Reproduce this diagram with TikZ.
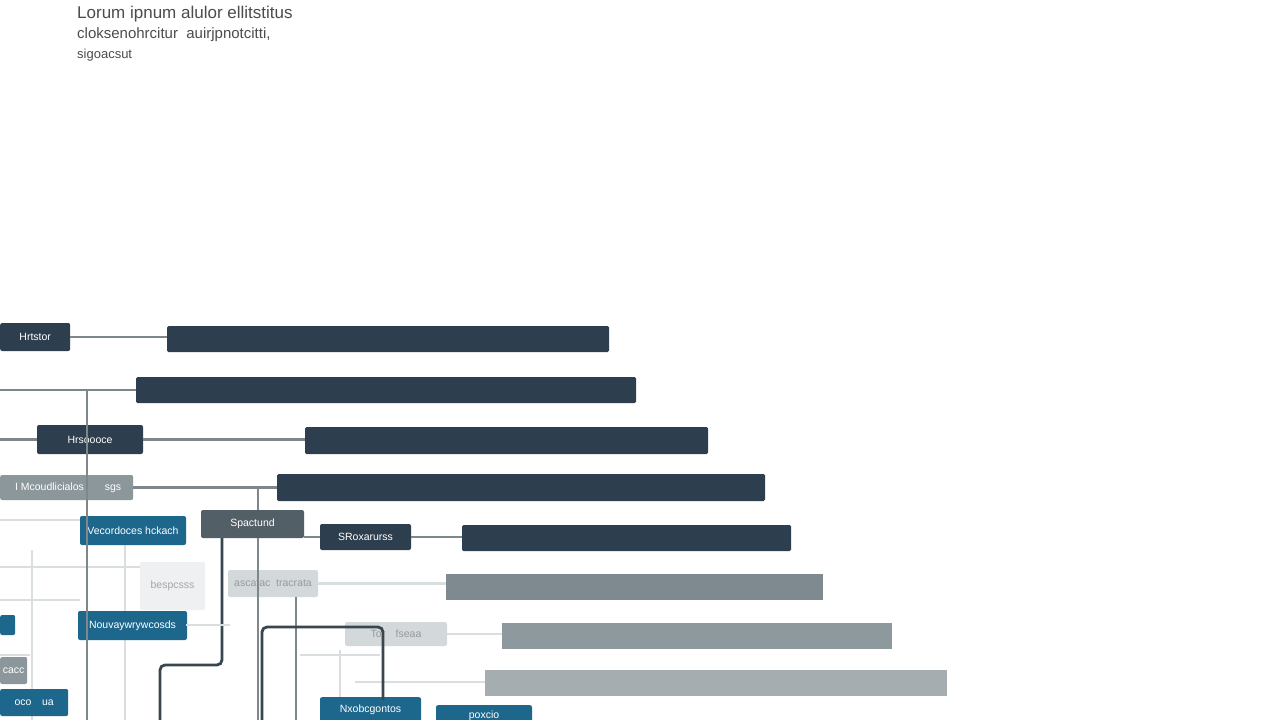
\documentclass[tikz,border=0pt]{standalone}
\usepackage{fontspec}
\setmainfont{Liberation Sans}
\begin{document}
\begin{tikzpicture}[x=1pt,y=-1pt,
  dark/.style={fill=bardark,draw=none,rounded corners=1.5pt},
  lbl/.style={rounded corners=2pt,draw=none,text=white,font=\fontsize{10.5}{11}\selectfont,inner sep=0pt},
  lbldark/.style={lbl,fill=bardark},
  lblblue/.style={lbl,fill=lblue},
  lblgray/.style={lbl,fill=lgray},
  lbllight/.style={lbl,fill=llight,text=gray!80},
  lblpale/.style={lbl,fill=lpale,text=gray!70},
  conn/.style={draw=linegray,line width=2.6pt},
  connlight/.style={draw=linelight,line width=2.4pt},
  conndark/.style={draw=linedark,line width=2.8pt,rounded corners=5pt}]
\definecolor{bardark}{HTML}{2D3F4E}
\definecolor{gray1}{HTML}{7F8A90}
\definecolor{gray2}{HTML}{8E999D}
\definecolor{gray3}{HTML}{A5ADB0}
\definecolor{lblue}{HTML}{1E678C}
\definecolor{lgray}{HTML}{8C979C}
\definecolor{llight}{HTML}{D3D9DB}
\definecolor{lpale}{HTML}{EEF0F1}
\definecolor{lspact}{HTML}{535F67}
\definecolor{linegray}{HTML}{7E878C}
\definecolor{linelight}{HTML}{D9DEE0}
\definecolor{linedark}{HTML}{37464F}
\useasboundingbox (0,0) rectangle (1280,720);
\fill[white] (0,0) rectangle (1280,720);

% title
\node[anchor=base west,inner sep=0pt,text=black!70,font=\fontsize{17}{20}\selectfont] (t1) at (77,19) {Lorum ipnum alulor ellitstitus};
\node[anchor=base west,inner sep=0pt,text=black!70,font=\fontsize{15}{18}\selectfont] (t2) at (77,38) {cloksenohrcitur\ \ auirjpnotcitti,};
\node[anchor=base west,inner sep=0pt,text=black!70,font=\fontsize{13}{16}\selectfont] (t3) at (77,58) {sigoacsut};

% light background lines
\draw[connlight] (0,520) -- (80,520);
\draw[connlight] (0,567) -- (140,567);
\draw[connlight] (32,550) -- (32,720);
\draw[connlight] (125,545) -- (125,720);
\draw[connlight] (0,600) -- (80,600);
\draw[connlight] (0,655) -- (30,655);
\draw[connlight] (340,650) -- (340,720);
\draw[connlight] (300,655) -- (380,655);
\draw[connlight] (355,682) -- (485,682);

% bars
\node[dark,minimum width=442pt,minimum height=26pt,inner sep=0pt] (b1) at (388,339) {};
\node[dark,minimum width=500pt,minimum height=26pt,inner sep=0pt] (b2) at (386,390) {};
\node[dark,minimum width=403pt,minimum height=27pt,inner sep=0pt] (b3) at (506.5,440.5) {};
\node[dark,minimum width=488pt,minimum height=27pt,inner sep=0pt] (b4) at (521,487.5) {};
\node[dark,minimum width=329pt,minimum height=26pt,inner sep=0pt] (b5) at (626.5,538) {};
\node[fill=gray1,minimum width=377pt,minimum height=26pt,inner sep=0pt] (b6) at (634.5,587) {};
\node[fill=gray2,minimum width=390pt,minimum height=26pt,inner sep=0pt] (b7) at (697,636) {};
\node[fill=gray3,minimum width=462pt,minimum height=26pt,inner sep=0pt] (b8) at (716,683) {};

% label boxes
\node[lbldark,minimum width=70pt,minimum height=28pt,anchor=west] (hrt) at (0,337) {Hrtstor};
\node[lbldark,minimum width=106pt,minimum height=29pt] (hrs) at (90,439.5) {Hrsoooce};
\node[lblgray,minimum width=133pt,minimum height=25pt,anchor=west] (mco) at (0,487.5) {\ I Mcoudlicialos\qquad sgs};
\node[lblblue,minimum width=106pt,minimum height=29pt] (vec) at (133,530.5) {Vecordoces hckach};
\node[fill=lspact,lbl,minimum width=103pt,minimum height=28pt] (spa) at (252.5,524) {Spactund};
\node[lbldark,minimum width=91pt,minimum height=26pt] (srx) at (365.5,537) {SRoxarurss};
\node[lblpale,minimum width=65pt,minimum height=48pt] (bes) at (172.5,586) {bespcsss};
\node[lbllight,minimum width=90pt,minimum height=27pt] (asc) at (273,583.5) {ascatac\ \ tracrata};
\node[lbllight,minimum width=102pt,minimum height=24pt] (tor) at (396,634) {Tor\quad fseaa};
\node[lblblue,minimum width=109pt,minimum height=29pt] (nou) at (132.5,625.5) {Nouvaywrywcosds};
\node[lblblue,minimum width=15pt,minimum height=20pt,anchor=west] (sml) at (0,625) {};
\node[lblgray,minimum width=27pt,minimum height=27pt,anchor=west] (cac) at (0,670.5) {cacc};
\node[lblblue,minimum width=68pt,minimum height=27pt,anchor=west] (oco) at (0,702.5) {oco\quad ua};
\node[lblblue,minimum width=101pt,minimum height=26pt,anchor=north] (nxo) at (370.5,697) {Nxobcgontos};
\node[lblblue,minimum width=96pt,minimum height=22pt,anchor=north] (pox) at (484,705) {poxcio};

% connectors
\draw[conn] (hrt.east) -- (hrt.east -| b1.west);
\coordinate (l2) at (0,390);
\draw[conn] (l2) -- (b2.west);
\coordinate (v1) at (87,720);
\draw[conn] (87,390) -- (v1);
\coordinate (l3) at (0,439.5);
\draw[conn] (l3) -- (hrs.west);
\draw[conn] (hrs.east) -- (hrs.east -| b3.west);
\draw[conn] (mco.east) -- (b4.west);
\coordinate (v2) at (258,720);
\draw[conn] (258,487.5) -- (spa.north -| 258,0);
\draw[conn] (spa.south -| 258,0) -- (v2);
\draw[conn] (srx.east) -- (srx.east -| b5.west);
\draw[conn] (spa.east |- srx.west) -- (srx.west);
\draw[connlight] (asc.east) -- (asc.east -| b6.west);
\draw[connlight] (tor.east) -- (tor.east -| b7.west);
\draw[conn] (296,597) -- (296,720);
\coordinate (d1) at (160,720);
\draw[conndark] (222,538) -- (222,665) -- (160,665) -- (d1);
\draw[conndark] (262,720) -- (262,627) -- (383,627) -- (383,700);
\draw[connlight] (186,625) -- (230,625);
\end{tikzpicture}
\end{document}
